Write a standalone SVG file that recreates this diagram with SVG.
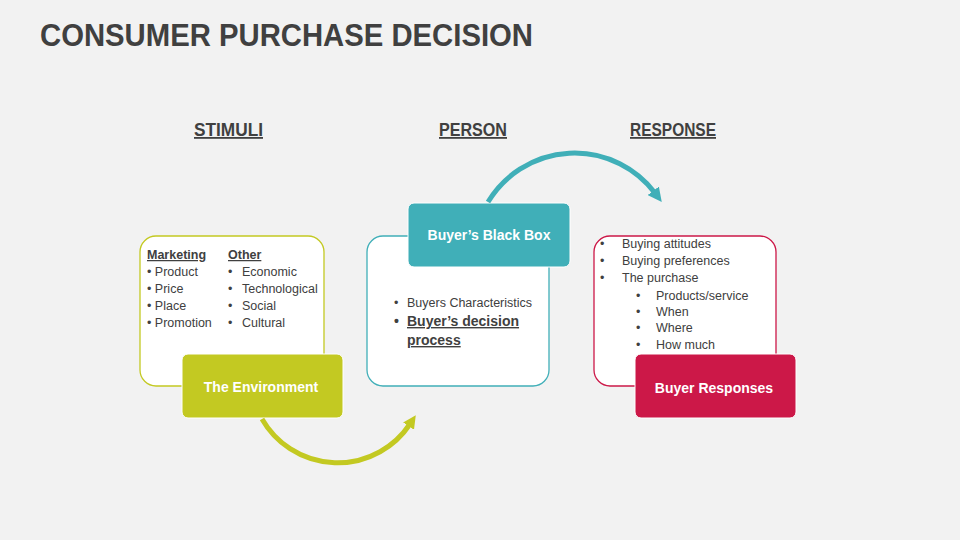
<svg xmlns="http://www.w3.org/2000/svg" width="960" height="540" viewBox="0 0 960 540">
<defs>
<style>
.bg{fill:#f2f2f2}
.title{font-family:"Liberation Sans",Arial,sans-serif;font-weight:bold;font-size:31px;fill:#404040}
.head{font-family:"Liberation Sans",Arial,sans-serif;font-weight:bold;font-size:18px;fill:#404040;text-decoration:underline}
.card{fill:#ffffff;stroke-width:1.3}
.lbl{stroke:#ffffff;stroke-width:1}
.lbltxt{font-family:"Liberation Sans",Arial,sans-serif;font-weight:bold;font-size:14px;fill:#ffffff;text-anchor:middle}
.t{font-family:"Liberation Sans",Arial,sans-serif;font-size:12.5px;fill:#404040}
.tb{font-family:"Liberation Sans",Arial,sans-serif;font-size:12.5px;font-weight:bold;fill:#404040;text-decoration:underline}
.big{font-family:"Liberation Sans",Arial,sans-serif;font-size:14px;font-weight:bold;fill:#404040;text-decoration:underline}
.arc{fill:none;stroke-width:5}
</style>
<marker id="ahTeal" viewBox="0 0 10 10" refX="2" refY="5" markerWidth="14" markerHeight="14" markerUnits="userSpaceOnUse" orient="auto">
<path d="M0,0 L10,5 L0,10 z" fill="#40afb8"/>
</marker>
<marker id="ahGreen" viewBox="0 0 10 10" refX="2" refY="5" markerWidth="13" markerHeight="13" markerUnits="userSpaceOnUse" orient="auto">
<path d="M0,0 L10,5 L0,10 z" fill="#c3c922"/>
</marker>
</defs>
<rect class="bg" x="0" y="0" width="960" height="540"/>
<g id="title">
<text class="title" x="40" y="46" textLength="493" lengthAdjust="spacingAndGlyphs">CONSUMER PURCHASE DECISION</text>
</g>
<g id="headings">
<text class="head" x="194" y="136" textLength="69" lengthAdjust="spacingAndGlyphs">STIMULI</text>
<text class="head" x="439" y="136" textLength="68" lengthAdjust="spacingAndGlyphs">PERSON</text>
<text class="head" x="630" y="136" textLength="86" lengthAdjust="spacingAndGlyphs">RESPONSE</text>
</g>
<g id="node-stimuli">
<rect class="card" x="140" y="236" width="184" height="150" rx="16" stroke="#c3c922"/>
<text class="tb" x="147" y="259">Marketing</text>
<text class="tb" x="228" y="259">Other</text>
<text class="t" x="147" y="276">• Product</text>
<text class="t" x="147" y="293">• Price</text>
<text class="t" x="147" y="310">• Place</text>
<text class="t" x="147" y="327">• Promotion</text>
<text class="t" x="228" y="276">•</text><text class="t" x="242" y="276">Economic</text>
<text class="t" x="228" y="293">•</text><text class="t" x="242" y="293">Technological</text>
<text class="t" x="228" y="310">•</text><text class="t" x="242" y="310">Social</text>
<text class="t" x="228" y="327">•</text><text class="t" x="242" y="327">Cultural</text>
<rect class="lbl" x="182" y="354" width="161" height="64" rx="6" fill="#c3c922"/>
<text class="lbltxt" x="261" y="392">The Environment</text>
</g>
<g id="node-person">
<rect class="card" x="367" y="236" width="182" height="150" rx="16" stroke="#40afb8"/>
<text class="t" x="394" y="307">•</text><text class="t" x="407" y="307">Buyers Characteristics</text>
<text class="big" x="394" y="326" style="text-decoration:none">•</text>
<text class="big" x="407" y="326">Buyer’s decision</text>
<text class="big" x="407" y="345">process</text>
<rect class="lbl" x="408" y="203" width="162" height="64" rx="6" fill="#40afb8"/>
<text class="lbltxt" x="489" y="240">Buyer’s Black Box</text>
</g>
<g id="node-response">
<rect class="card" x="594" y="236" width="182" height="150" rx="16" stroke="#cc1848"/>
<text class="t" x="600" y="248">•</text><text class="t" x="622" y="248">Buying attitudes</text>
<text class="t" x="600" y="265">•</text><text class="t" x="622" y="265">Buying preferences</text>
<text class="t" x="600" y="282">•</text><text class="t" x="622" y="282">The purchase</text>
<text class="t" x="636" y="300">•</text><text class="t" x="656" y="300">Products/service</text>
<text class="t" x="636" y="316">•</text><text class="t" x="656" y="316">When</text>
<text class="t" x="636" y="332">•</text><text class="t" x="656" y="332">Where</text>
<text class="t" x="636" y="349">•</text><text class="t" x="656" y="349">How much</text>
<rect class="lbl" x="635" y="354" width="161" height="64" rx="6" fill="#cc1848"/>
<text class="lbltxt" x="714" y="393">Buyer Responses</text>
</g>
<g id="connectors">
<path class="arc" d="M 488 202 A 101 101 0 0 1 655 193" stroke="#40afb8" marker-end="url(#ahTeal)"/>
<path class="arc" d="M 262 419 A 87 87 0 0 0 410 424" stroke="#c3c922" marker-end="url(#ahGreen)"/>
</g>
</svg>
